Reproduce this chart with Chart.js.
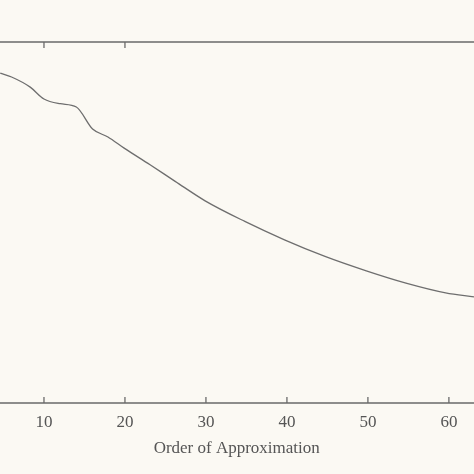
<!DOCTYPE html>
<html><head><meta charset="utf-8">
<script src="https://cdn.jsdelivr.net/npm/chart.js@4/dist/chart.umd.min.js"></script>
<style>html,body{margin:0;background:#fbf9f3;}#w{width:474px;height:474px;}</style>
</head><body><div id="w"><canvas id="c"></canvas></div>
<script>
const orders=[4.6,6.0,8.3,10,12,14,16,17.9,19.9,23.1,26.2,29.9,34.8,39.7,44.7,49.8,54.7,59.6,63.1];
const errorVals=[91.4,90.3,87.5,84.2,82.9,82.0,75.9,73.7,70.6,66.0,61.4,56.0,50.3,45.2,40.6,36.6,33.2,30.5,29.4];
const tickVals=[10,20,30,40,50,60];
const xTitle="Order of Approximation";
const frame={id:'frame',afterDraw(ch){
 const c=ch.ctx,a=ch.chartArea,x=ch.scales.x;
 c.save();c.strokeStyle='#6a6a6a';c.lineWidth=1.3;
 c.beginPath();c.moveTo(0,a.top);c.lineTo(474,a.top);c.moveTo(0,a.bottom);c.lineTo(474,a.bottom);c.stroke();
 c.fillStyle='#555';c.font='17px "Liberation Serif"';c.textAlign='center';c.textBaseline='middle';
 tickVals.forEach(v=>{const p=x.getPixelForValue(v);
  c.beginPath();c.moveTo(p,a.bottom);c.lineTo(p,a.bottom-6);c.stroke();
  if(v<=20){c.beginPath();c.moveTo(p,a.top);c.lineTo(p,a.top+6);c.stroke();}
  c.fillText(String(v),p,a.bottom+20);});
 c.fillText(xTitle,x.getPixelForValue(33.8),a.bottom+46);
 c.restore();}};
new Chart(document.getElementById('c'),{type:'line',
 data:{datasets:[{data:orders.map((o,i)=>({x:o,y:errorVals[i]})),borderColor:'#6e6e6e',borderWidth:1.3,pointRadius:0,cubicInterpolationMode:'monotone',fill:false}]},
 options:{responsive:true,maintainAspectRatio:false,animation:false,
  layout:{padding:{top:42,bottom:71,left:0,right:0}},
  plugins:{legend:{display:false},tooltip:{enabled:false}},
  scales:{x:{type:'linear',min:4.57,max:63.1,display:false},y:{min:0,max:100,display:false}}},
 plugins:[frame]});
</script></body></html>
